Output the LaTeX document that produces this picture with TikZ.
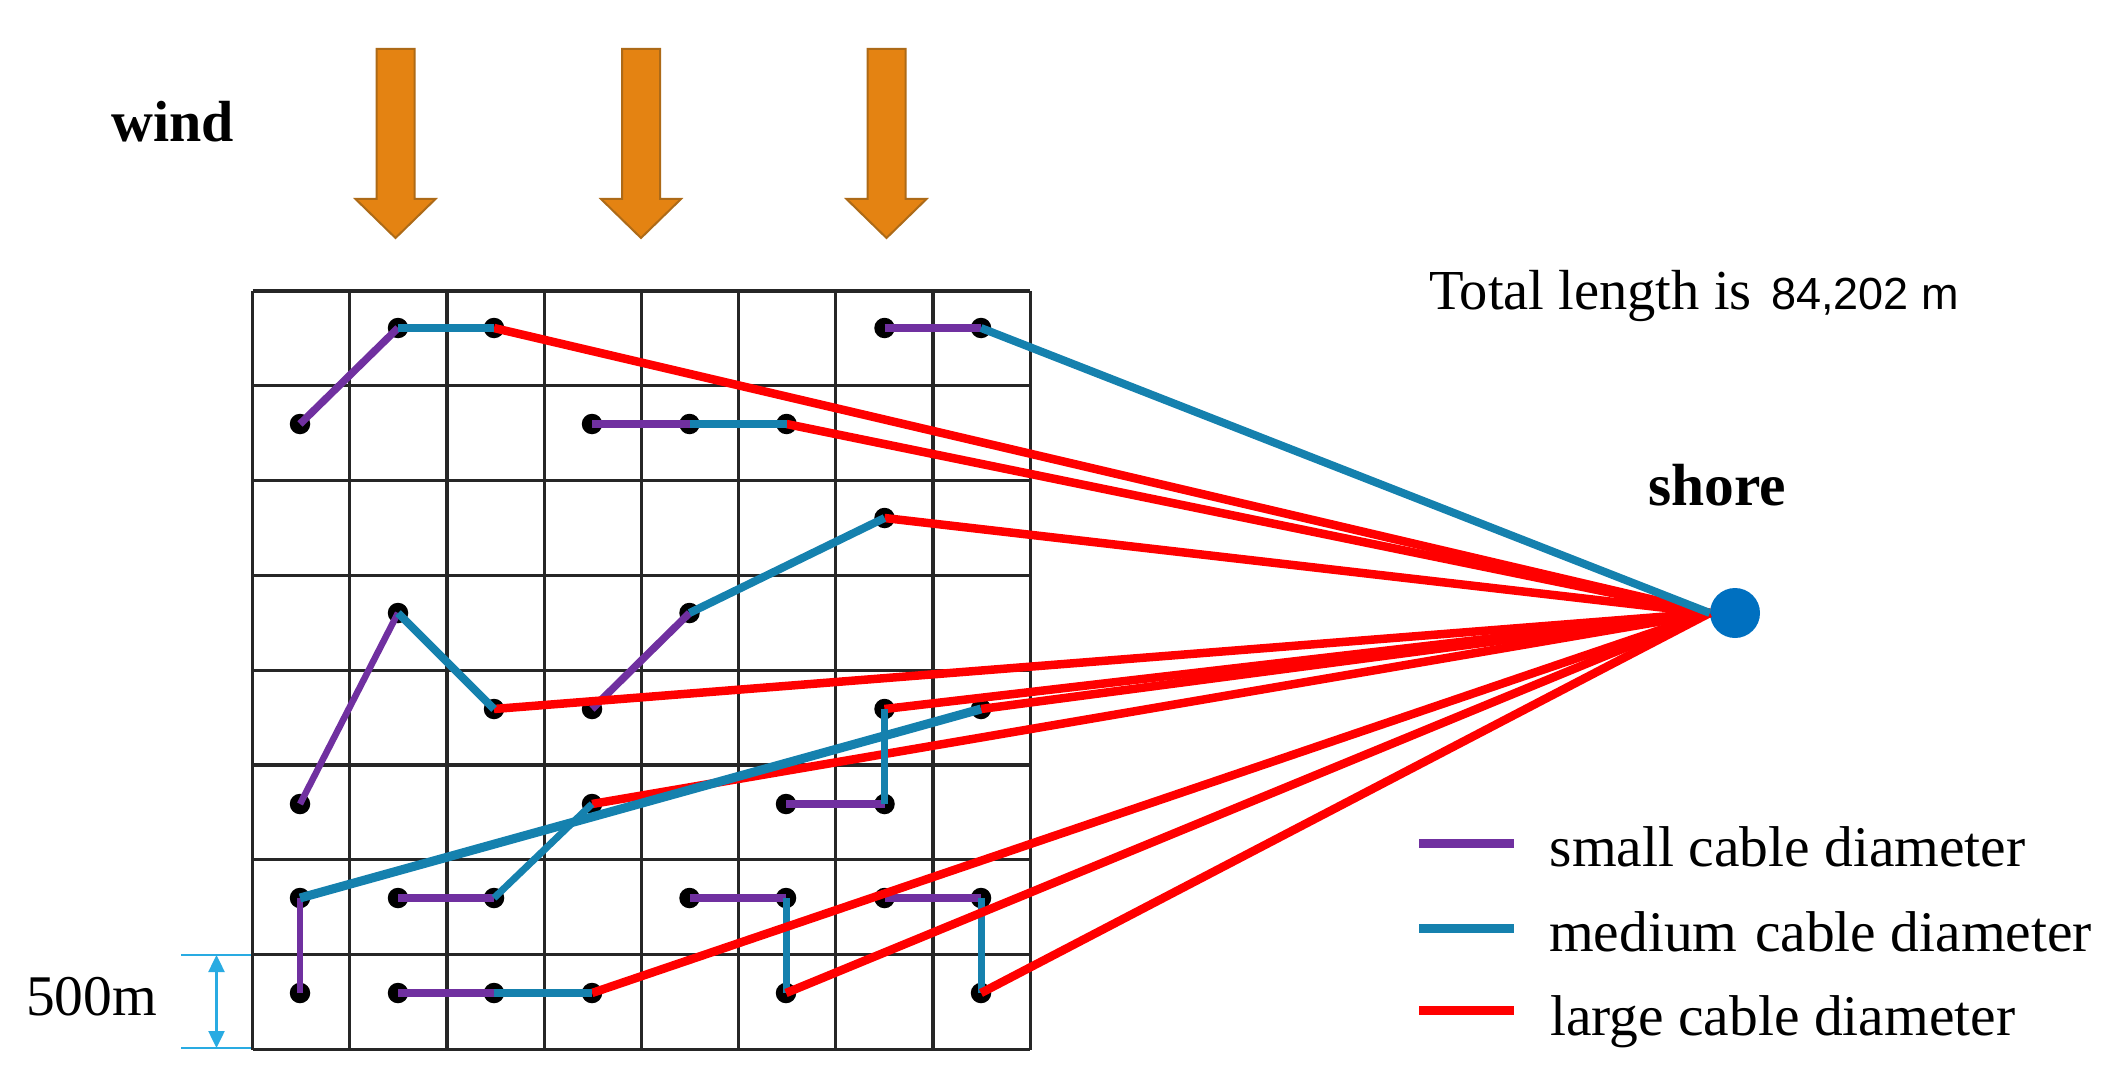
\documentclass[tikz,border=0pt]{standalone}
\usepackage{fontspec}
\setmainfont{Liberation Serif}
\newfontfamily\sansf{Liberation Sans}
\usetikzlibrary{arrows.meta}
\definecolor{smallc}{HTML}{7030A0}
\definecolor{mediumc}{HTML}{1581AE}
\definecolor{largec}{HTML}{FF0000}
\definecolor{shorec}{HTML}{0070C0}
\definecolor{windf}{HTML}{E48312}
\definecolor{winde}{HTML}{AD6A17}
\definecolor{dimc}{HTML}{29ABE2}
\tikzset{
  turbine/.style={circle,fill=black,inner sep=0pt,minimum size=20.5pt},
  gridline/.style={line width=3.2pt,color=black!85},
  smallcable/.style={line width=7.5pt,color=smallc},
  mediumcable/.style={line width=8pt,color=mediumc},
  largecable/.style={line width=8.5pt,color=largec},
  windarrow/.style={fill=windf,draw=winde,line width=2pt,line join=miter},
  dimline/.style={line width=2.5pt,color=dimc},
  txt/.style={anchor=base west,inner sep=0pt,font=\fontsize{57.5pt}{60pt}\selectfont},
  btxt/.style={anchor=base west,inner sep=0pt,font=\fontsize{58pt}{60pt}\selectfont\bfseries},
}
\newcommand{\windarrowat}[1]{%
  \draw[windarrow,shift={(#1,0)}] (-19,49) -- (19,49) -- (19,199) -- (40,199) -- (0,238) -- (-40,199) -- (-19,199) -- cycle;}
\begin{document}
\begin{tikzpicture}[x=1pt,y=-1pt]
\useasboundingbox (0,0) rectangle (2109,1075);
% grid
\foreach \i in {0,...,8} {
  \draw[gridline] ({252.6+\i*97.2},291) -- ({252.6+\i*97.2},1050);
  \draw[gridline] (252.6,{291+\i*94.8}) -- (1030.2,{291+\i*94.8});
}
% wind arrows
\windarrowat{395.5}
\windarrowat{641}
\windarrowat{886.5}
\node[btxt] (wind) at (111,142) {wind};
% shore
\node[circle,fill=shorec,inner sep=0pt,minimum size=50pt] (shore) at (1735,613) {};
\node[btxt,font=\fontsize{59.5pt}{60pt}\selectfont\bfseries] (shorelabel) at (1648,505) {shore};
% total
\node[txt,font=\fontsize{56.5pt}{60pt}\selectfont] (total) at (1429,309) {Total length is};
\node[anchor=base west,inner sep=0pt,font=\fontsize{45pt}{50pt}\sansf] (totalval) at (1771,309) {84,202 m};
% turbines
\foreach \n/\x/\y in {
 a/398/328, b/494/328, c/884.5/328, d/981/328,
 e/300/424, f/592/424, g/689.5/424, h/786.5/424,
 i/884.5/518,
 j/398/613, k/689.5/613,
 l/494/709, m/592/709, n/884.5/709, o/981/709,
 p/300/804, q/592/804, r/786/804, s/884.5/804,
 t/300/898, u/398/898, v/494/898, w/689.5/898, y/786/898, z/884.5/898, aa/981/898,
 ab/300/993, ac/398/993, ad/494/993, ae/592/993, af/786/993, ag/981/993}
 {\node[turbine] (\n) at (\x,\y) {};}
% small cables
\foreach \p/\q in {e/a,c/d,f/g,m/k,r/s,u/v,w/y,z/aa,ac/ad}
  \draw[smallcable] (\p.center) -- (\q.center);
\foreach \p/\q in {j/p,t/ab}
  \draw[smallcable,line width=6.5pt] (\p.center) -- (\q.center);
% medium cables under red
\foreach \p/\q in {y/af,aa/ag}
  \draw[mediumcable,line width=7pt] (\p.center) -- (\q.center);
% large cables
\foreach \p in {b,h,i,l,n,o,q,ae,af,ag}
  \draw[largecable] (\p.center) -- (shore.west);
% medium cables
\foreach \p/\q in {a/b,g/h,k/i,j/l,ad/ae}
  \draw[mediumcable] (\p.center) -- (\q.center);
\foreach \p/\q in {n/s,v/q}
  \draw[mediumcable,line width=7pt] (\p.center) -- (\q.center);
\draw[mediumcable] (d.center) -- (shore.west);
\draw[mediumcable,line width=9pt] (t.center) -- (o.center);
% 500 m dimension
\coordinate (dimtl) at (181,955);
\coordinate (dimtr) at (251,955);
\coordinate (dimbl) at (181,1048);
\coordinate (dimbr) at (251,1048);
\coordinate (dimt) at (216.5,955);
\coordinate (dimb) at (216.5,1048);
\draw[dimline] (dimtl) -- (dimtr);
\draw[dimline] (dimbl) -- (dimbr);
\draw[dimline,{Triangle[length=17pt,width=16pt]}-{Triangle[length=17pt,width=16pt]}] (dimt) -- (dimb);
\node[txt] (dimlabel) at (26,1015) {500m};
% legend
\coordinate (l1a) at (1419,843); \coordinate (l1b) at (1514,843);
\coordinate (l2a) at (1419,928); \coordinate (l2b) at (1514,928);
\coordinate (l3a) at (1419,1010); \coordinate (l3b) at (1514,1010);
\draw[smallcable,line width=9pt] (l1a) -- (l1b);
\draw[mediumcable,line width=9pt] (l2a) -- (l2b);
\draw[largecable,line width=9pt] (l3a) -- (l3b);
\node[txt] (leg1) at (1549.5,866) {small cable diameter};
\node[txt] (leg2) at (1549,951) {medium\hspace{3pt} cable diameter};
\node[txt] (leg3) at (1550,1035) {large cable diameter};
\end{tikzpicture}
\end{document}
